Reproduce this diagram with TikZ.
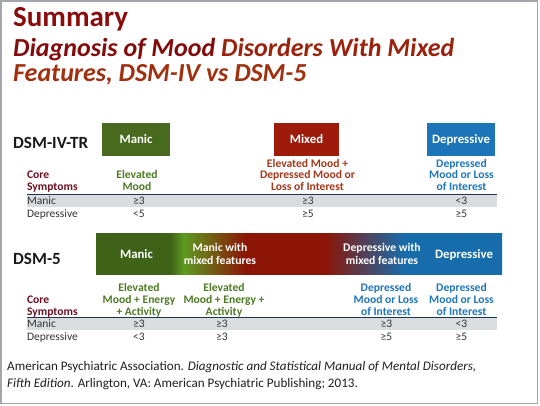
\documentclass[tikz,border=0pt]{standalone}
\usepackage{fontspec}
\setmainfont{Carlito}
\definecolor{ttlred}{HTML}{8A0C0C}
\definecolor{subA}{HTML}{840B0B}
\definecolor{subB}{HTML}{9A230E}
\definecolor{subC}{HTML}{A0300F}
\definecolor{mgreen}{HTML}{486A1E}
\definecolor{mred}{HTML}{9E1B0B}
\definecolor{mblue}{HTML}{1C74B9}
\definecolor{tgreen}{HTML}{4D7A22}
\definecolor{tred}{HTML}{A3391B}
\definecolor{tblue}{HTML}{1F76BA}
\definecolor{coreRed}{HTML}{6B1020}
\definecolor{navy}{HTML}{1E3451}
\definecolor{bandgray}{HTML}{DADDE0}
\definecolor{rowtxt}{HTML}{333333}
\definecolor{bgreen}{HTML}{3F6219}
\definecolor{bbright}{HTML}{5E9A20}
\definecolor{bred}{HTML}{8C1506}
\definecolor{bblue}{HTML}{176DAB}
\definecolor{framegray}{HTML}{A3A7AB}
\pgfdeclarehorizontalshading{dsmbar}{100bp}{color(0bp)=(bgreen); color(34.1bp)=(bgreen); color(35.8bp)=(bbright); color(43.4bp)=(bred); color(53.2bp)=(bred); color(63bp)=(bblue); color(100bp)=(bblue)}
\newcommand{\stk}[1]{\begin{tabular}[t]{@{}c@{}}#1\end{tabular}}
\newcommand{\stl}[1]{\begin{tabular}[t]{@{}l@{}}#1\end{tabular}}
\tikzset{
  txt/.style={inner sep=0pt, outer sep=0pt, font=\fontsize{11.5}{11.6}\selectfont},
  sym/.style={txt, anchor=base, font=\bfseries\fontsize{11.6}{11.8}\selectfont},
  core/.style={txt, anchor=base west, text=coreRed, font=\bfseries\fontsize{11.6}{11.8}\selectfont},
  rowlbl/.style={txt, anchor=base west, text=rowtxt},
  val/.style={txt, anchor=base, text=rowtxt},
  catbox/.style={inner sep=0pt, minimum height=32.5pt, text=white, text height=9pt, text depth=1pt, font=\bfseries\fontsize{12.8}{14}\selectfont},
  barlbl/.style={inner sep=0pt, anchor=base, text=white, font=\bfseries\fontsize{11.7}{13.3}\selectfont},
  barlblone/.style={inner sep=0pt, anchor=base, text=white, font=\bfseries\fontsize{12.8}{14}\selectfont},
  sect/.style={inner sep=0pt, anchor=base west, text=black!90, font=\bfseries\fontsize{17.1}{20}\selectfont},
  tablerule/.style={navy, line width=1.6pt},
  reftxt/.style={inner sep=0pt, anchor=base west, text=black!88, font=\fontsize{13.1}{16}\selectfont},
  subttl/.style={inner sep=0pt, anchor=base west, font=\bfseries\itshape\fontsize{26}{28}\selectfont},
}
\begin{document}
\begin{tikzpicture}[x=1pt,y=-1pt]
\useasboundingbox (0,0) rectangle (540,405);
\fill[white] (0,0) rectangle (540,405);
\draw[framegray, line width=1.3pt] (0.9,0.9) rectangle (537.5,403.6);

% titles
\node[inner sep=0pt, anchor=base west, text=ttlred, font=\bfseries\fontsize{29}{31}\selectfont] (title) at (13,26.5) {Summary};
\node[subttl] (sub1) at (13,56.5) {\textcolor{subA}{Diagnosis of Mood} \textcolor{subB}{Disorders With Mixed}};
\node[subttl, text=subC] (sub2) at (13,81) {Features, DSM-IV vs DSM-5};

% DSM-IV-TR
\node[sect] (dsm4) at (13,148.3) {DSM-IV-TR};
\node[catbox, fill=mgreen, minimum width=68pt] (b4manic) at (136,139.5) {Manic};
\node[catbox, fill=mred, minimum width=65pt] (b4mixed) at (306.5,139.5) {Mixed};
\node[catbox, fill=mblue, minimum width=68pt] (b4dep) at (461,139.5) {Depressive};

\node[sym, text=tgreen] (s4m) at (137,178.8) {\stk{Elevated\\Mood}};
\node[sym, text=tred] (s4x) at (307.5,167) {\stk{Elevated Mood +\\Depressed Mood or\\Loss of Interest}};
\node[sym, text=tblue] (s4d) at (461.5,167) {\stk{Depressed\\Mood or Loss\\of Interest}};
\node[core] (c4) at (27,178.8) {\stl{Core\\Symptoms}};

\fill[bandgray] (27,195.2) rectangle (497,207.2);
\draw[tablerule] (27,194.5) -- (497,194.5);
\node[rowlbl] (r4a) at (27,204.3) {Manic};
\node[rowlbl] (r4b) at (27,217) {Depressive};
\node[val] (v4a1) at (139,204.3) {≥3};
\node[val] (v4a2) at (308,204.3) {≥3};
\node[val] (v4a3) at (461.5,204.3) {<3};
\node[val] (v4b1) at (139,217) {<5};
\node[val] (v4b2) at (308,217) {≥5};
\node[val] (v4b3) at (461.5,217) {≥5};

% DSM-5
\node[sect] (dsm5) at (13,264) {DSM-5};
\shade[shading=dsmbar] (96,233.3) rectangle (502,274.3);
\node[barlblone] (b5manic) at (136.5,258.3) {Manic};
\node[barlbl] (b5mm) at (220,251) {\stk{Manic with\\mixed features}};
\node[barlbl] (b5dm) at (382,251) {\stk{Depressive with\\mixed features}};
\node[barlblone] (b5dep) at (464,258.3) {Depressive};

\node[sym, text=tgreen] (s5a) at (139,291.7) {\stk{Elevated\\Mood + Energy\\+ Activity}};
\node[sym, text=tgreen] (s5b) at (224,291.7) {\stk{Elevated\\Mood + Energy +\\Activity}};
\node[sym, text=tblue] (s5c) at (386,291.7) {\stk{Depressed\\Mood or Loss\\of Interest}};
\node[sym, text=tblue] (s5d) at (461.5,291.7) {\stk{Depressed\\Mood or Loss\\of Interest}};
\node[core] (c5) at (27,303.5) {\stl{Core\\Symptoms}};

\fill[bandgray] (27,318.2) rectangle (497,330.4);
\draw[tablerule] (27,317.5) -- (497,317.5);
\node[rowlbl] (r5a) at (27,327.6) {Manic};
\node[rowlbl] (r5b) at (27,340.8) {Depressive};
\node[val] (v5a1) at (139,327.6) {≥3};
\node[val] (v5a2) at (222,327.6) {≥3};
\node[val] (v5a3) at (386.5,327.6) {≥3};
\node[val] (v5a4) at (461.5,327.6) {<3};
\node[val] (v5b1) at (139,340.8) {<3};
\node[val] (v5b2) at (222,340.8) {≥3};
\node[val] (v5b3) at (386.5,340.8) {≥5};
\node[val] (v5b4) at (461.5,340.8) {≥5};

% footnote
\node[reftxt] (ref1) at (7,370.5) {American Psychiatric Association. \textit{Diagnostic and Statistical Manual of Mental Disorders,}};
\node[reftxt] (ref2) at (7,387) {\textit{Fifth Edition}. Arlington, VA: American Psychiatric Publishing; 2013.};
\end{tikzpicture}
\end{document}
